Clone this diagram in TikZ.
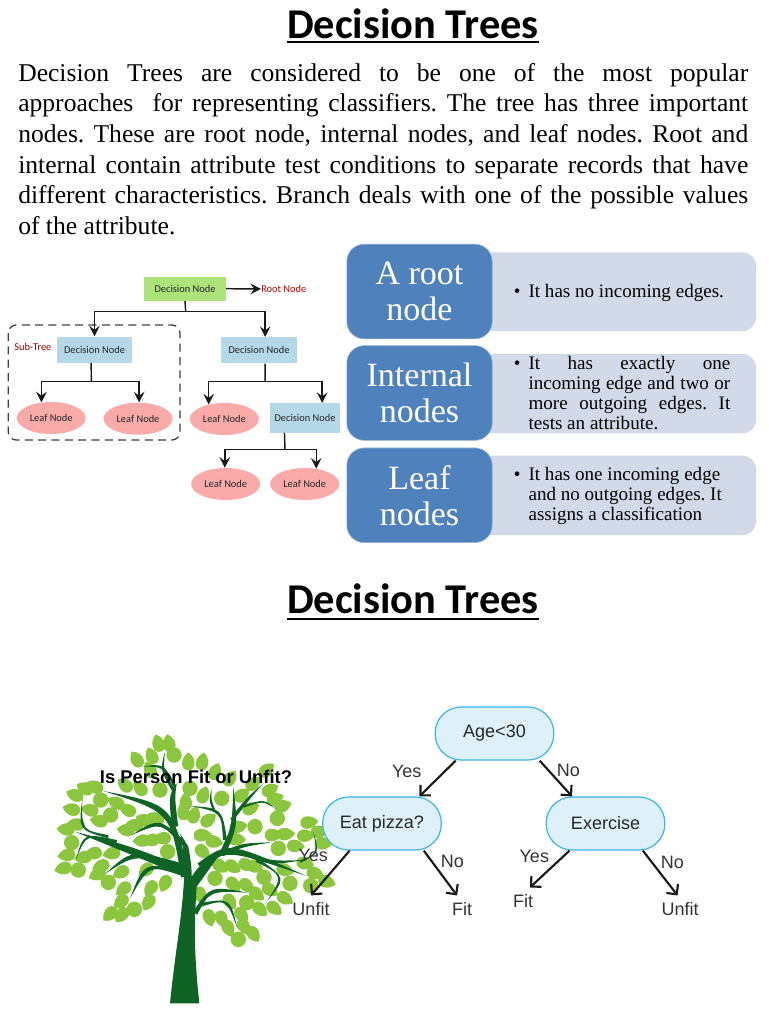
\documentclass[tikz,border=0pt]{standalone}
\usepackage{fontspec}
\setmainfont{Liberation Serif}
\newfontfamily\cali{Carlito}
\newfontfamily\arial{Liberation Sans}
\usetikzlibrary{arrows.meta,calc,shapes.geometric}
\definecolor{treegreen}{HTML}{0F6425}
\definecolor{leafgreen}{HTML}{8CC63F}
\definecolor{rootgreen}{HTML}{ADE47A}
\definecolor{declblue}{HTML}{B4D8E8}
\definecolor{leafpink}{HTML}{FBAAAA}
\definecolor{panelblue}{HTML}{4F81BD}
\definecolor{panellight}{HTML}{D2DAE9}
\definecolor{flowfill}{HTML}{DEF1FB}
\definecolor{flowline}{HTML}{3CB4E8}
% tapered branch: base, control, tip, half width at the base
\newcommand{\limb}[4]{\fill[treegreen] ($(#1)!#4!90:(#2)$) .. controls ($(#2)!#4!90:(#3)$) .. (#3) .. controls ($(#2)!#4!-90:(#3)$) .. ($(#1)!#4!-90:(#2)$) -- cycle;}
\tikzset{
  title/.style={font=\cali\bfseries\fontsize{31.8}{36}\selectfont,inner sep=0pt},
  decision/.style={font=\cali\fontsize{7.8}{10}\selectfont,text=black!85,inner sep=0pt},
  dnode/.style={decision,fill=declblue,minimum width=56.7pt,minimum height=19.5pt},
  lnode/.style={decision,ellipse,fill=leafpink,minimum width=51.8pt,minimum height=24pt},
  edge1/.style={-{Stealth[length=8pt,width=8pt,inset=3pt]},line width=1.1pt,black!90},
  stem1/.style={line width=1.1pt,black!90},
  head/.style={fill=panelblue,draw=panelblue!60,line width=.5pt,rounded corners=13pt,minimum width=109pt,minimum height=71pt,text=white,align=center,inner sep=0pt,font=\fontsize{25.5}{27}\selectfont},
  body/.style={fill=panellight,rounded corners=10pt},
  item/.style={anchor=west,text width=151.3pt,align=justify,inner sep=0pt,font=\fontsize{14.3}{15}\selectfont\frenchspacing},
  flow/.style={fill=flowfill,draw=flowline,line width=.9pt,rounded corners=19.5pt,minimum width=89pt,minimum height=39.8pt,inner sep=0pt,font=\arial\fontsize{13.5}{15}\selectfont,text=black!85},
  tag/.style={font=\arial\fontsize{13.5}{15}\selectfont,text=black!80,inner sep=0pt},
  endtag/.style={tag,inner xsep=1pt,inner ysep=5pt},
  edge2/.style={-{Straight Barb[length=5.5pt,width=11pt,line width=1.6pt]},line width=1.6pt,black!90},
}
\begin{document}
\begin{tikzpicture}[x=0.75pt,y=-0.75pt]
\useasboundingbox (0,0) rectangle (768,1024);

% titles
\node[title] (t1) at (413,24) {Decision Trees};
\draw[line width=2.2pt] (287,42) -- (539,42);
\node[title] (t2) at (413,599) {Decision Trees};
\draw[line width=2.2pt] (287,619) -- (539,619);

% intro text
\node[anchor=north west,text width=547.5pt,align=justify,inner sep=0pt,font=\fontsize{19.2}{23}\selectfont\frenchspacing] (intro) at (18,63)
{Decision Trees are considered to be one of the most popular\linebreak
approaches\ \ for representing classifiers. The tree has three important\linebreak
nodes. These are root node, internal nodes, and leaf nodes. Root and\linebreak
internal contain attribute test conditions to separate records that have\linebreak
different characteristics. Branch deals with one of the possible values\linebreak
of the attribute.};

% small tree
\draw[dashed,dash pattern=on 6pt off 4pt,line width=1pt,black!75,rounded corners=6pt] (8.3,325) rectangle (180,440);
\node[inner sep=0pt,fill=rootgreen,minimum width=61.3pt,minimum height=18pt,decision] (root) at (185,288.7) {Decision Node};
\node[dnode] (dl) at (94.5,349.7) {Decision Node};
\node[dnode] (dr) at (259,350.3) {Decision Node};
\node[dnode,minimum width=52.5pt,minimum height=22pt] (dd) at (305,418) {Decision Node};
\node[lnode] (l1) at (51.2,418) {Leaf Node};
\node[lnode] (l2) at (138,418.7) {Leaf Node};
\node[lnode] (l3) at (224.3,419) {Leaf Node};
\node[lnode] (l4) at (225.7,484) {Leaf Node};
\node[lnode] (l5) at (304.7,484) {Leaf Node};
\node[decision,text=red!75!black,anchor=west] (rn) at (261,289) {Root Node};
\node[decision,text=red!55!black,anchor=west] (st) at (14,346.7) {Sub-Tree};
\coordinate (j0) at (185.7,311.7);
\coordinate (j1) at (91.3,381.7);
\coordinate (j2) at (265,381.7);
\coordinate (j3) at (285,449.3);
\draw[edge1] (root.east) -- (rn.west);
\draw[stem1] (root.south) -- (j0);
\draw[edge1] (j0) -| (dl.north);
\draw[edge1] (j0) -| (dr.65);
\draw[stem1] (dl.256) -- (j1);
\draw[edge1] (j1) -| (l1.122);
\draw[edge1] (j1) -| (l2.86);
\draw[stem1] (dr.295) -- (j2);
\draw[edge1] (j2) -| (l3.137);
\draw[edge1] (j2) -| (dd.41);
\draw[stem1] (dd.216) -- (j3);
\draw[edge1] (j3) -| (l4.93);
\draw[edge1] (j3) -| (l5.53);

% panel
\fill[body] (480,252.3) rectangle (756,331);
\fill[body] (480,354) rectangle (756,433.3);
\fill[body] (480,455.7) rectangle (756,535);
\node[head] (h1) at (419.5,291.5) {A root\\node};
\node[head] (h2) at (419.5,393) {Internal\\nodes};
\node[head] (h3) at (419.5,495.3) {Leaf\\nodes};
\node[item] (i1) at (528.3,292.5) {\llap{•\hspace{6pt}}It has no incoming edges.};
\node[item] (i2) at (528.3,393) {\llap{•\hspace{6pt}}It has exactly one\linebreak incoming edge and two or\linebreak more outgoing edges. It\linebreak tests an attribute.};
\node[item] (i3) at (528.3,495.5) {\llap{•\hspace{6pt}}It has one incoming edge\\and no outgoing edges. It\\assigns a classification};

% big tree, in crop units of a third of a pixel
\begin{scope}[shift={(40,720)},x=0.25pt,y=-0.25pt]
\foreach \lx/\ly in {355/70,387/70,290/118,335/108,445/125,487/125,330/150,300/205,255/195,490/225,605/225,525/155,570/175,680/150,640/190,690/210,705/237,728/258,437/245,462/285,430/275,505/300,632/265,595/320,105/225,135/205,165/200,228/248,95/268,150/270,263/270,177/303,108/313,78/328,348/295,313/300,285/315,258/330,305/362,333/360,367/355,487/345,522/365,590/358,488/395,700/345,737/342,767/378,807/307,797/347,838/335,850/370,80/405,70/445,160/400,130/412,215/400,183/438,172/463,243/457,318/450,250/507,375/490,332/505,243/545,210/582,245/585,325/547,480/525,578/440,620/435,540/438,645/440,735/450,825/460,860/485,580/493,620/497,570/545,650/522,690/510,735/535,703/565,660/568,508/593,545/597,605/585,565/625,612/620,640/642,795/430}{
  \pgfmathsetmacro\lr{atan2(350-\ly,\lx-440)-90}
  \fill[leafgreen,shift={(\lx,\ly)},rotate=\lr] (0pt,7pt) .. controls (7pt,2pt) and (5.5pt,-6.5pt) .. (0pt,-6.5pt) .. controls (-5.5pt,-6.5pt) and (-7pt,2pt) .. (0pt,7pt) -- cycle;
}
\foreach \lx/\ly in {182/240,212/285,95/368,115/450,205/487,283/568,360/210,402/105,545/235,712/295,645/320,715/385,383/395,525/475,620/548,672/472,750/490,812/497,595/658,450/205}{
  \fill[leafgreen] (\lx,\ly) circle [radius=5.8pt];
}
\fill[treegreen] (390,850) .. controls (405,700) and (425,600) .. (432,480) .. controls (434,420) and (428,370) .. (420,340)
  -- (445,380) .. controls (452,420) and (455,440) .. (455,470) .. controls (480,430) and (510,410) .. (545,395)
  -- (470,500) .. controls (462,620) and (462,700) .. (478,850) -- cycle;
\limb{435,470}{395,265}{190,213}{3pt}
\limb{405,320}{395,230}{410,190}{2.4pt}
\limb{400,210}{365,150}{375,95}{1.2pt}
\limb{405,200}{370,135}{305,140}{1.2pt}
\limb{430,370}{360,300}{275,345}{2pt}
\limb{430,455}{270,390}{105,335}{3pt}
\limb{430,440}{280,395}{195,462}{2.2pt}
\limb{430,460}{320,430}{270,535}{2.2pt}
\limb{205,350}{120,330}{127,235}{1.2pt}
\limb{230,365}{135,340}{108,418}{1.2pt}
\limb{480,440}{560,375}{800,468}{3pt}
\limb{600,395}{690,430}{790,420}{1.6pt}
\limb{560,395}{610,375}{695,367}{1.4pt}
\limb{650,420}{735,470}{680,545}{1.4pt}
\limb{780,425}{835,400}{820,335}{.9pt}
\limb{545,405}{585,320}{580,200}{2.2pt}
\limb{555,360}{545,270}{450,258}{1.5pt}
\limb{522,270}{510,240}{515,208}{.9pt}
\limb{575,300}{620,240}{670,190}{1.3pt}
\limb{610,260}{670,240}{705,265}{.8pt}
\limb{465,580}{510,505}{625,518}{1.9pt}
\limb{480,555}{565,535}{592,625}{1.4pt}
\end{scope}
\node[font=\arial\bfseries\fontsize{13.8}{15}\selectfont,inner sep=0pt] (q) at (196,777) {Is Person Fit or Unfit?};

% flowchart
\node[flow] (age) at (494.5,733.5) {Age<30};
\node[flow] (eat) at (382,823.5) {Eat pizza?};
\node[flow] (ex) at (605.5,823.5) {Exercise};
\node[endtag] (ua) at (311,909) {Unfit};
\node[endtag] (fa) at (462,909) {Fit};
\node[endtag] (fb) at (523,901) {Fit};
\node[endtag] (ub) at (680,909) {Unfit};
\draw[edge2] (age.215) -- (eat.36);
\draw[edge2] (age.-31) -- (ex.141);
\draw[edge2] (eat.220) -- (ua.north);
\draw[edge2] (eat.-33) -- (fa.110);
\draw[edge2] (ex.217) -- (fb.63);
\draw[edge2] (ex.-36) -- (ub.100);
\node[tag] (y1) at (406.7,771) {Yes};
\node[tag] (n1) at (568.3,770.7) {No};
\node[tag] (y2) at (313.3,855) {Yes};
\node[tag] (n2) at (452.3,861.7) {No};
\node[tag] (y3) at (534.3,856) {Yes};
\node[tag] (n3) at (672.3,862.7) {No};
\end{tikzpicture}
\end{document}
